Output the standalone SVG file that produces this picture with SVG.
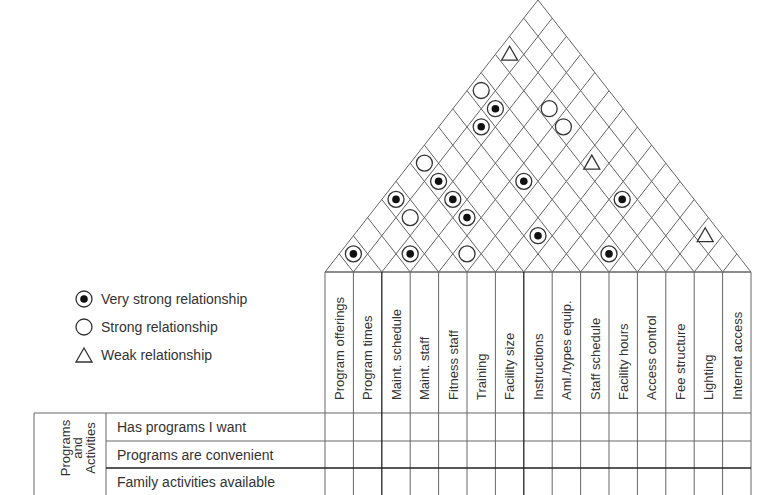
<svg xmlns="http://www.w3.org/2000/svg" width="781" height="495" viewBox="0 0 781 495">
<style>
.g{stroke:#666;stroke-width:1;fill:none}
.txt{font-family:"Liberation Sans",Arial,sans-serif;font-size:14px;fill:#333}
.col{font-family:"Liberation Sans",Arial,sans-serif;font-size:13px;fill:#333}
.s{stroke:#333;stroke-width:1.3;fill:#fff}
</style>
<defs>
<g id="vs"><circle r="8" class="s"/><circle r="3.8" fill="#111"/></g>
<g id="st"><circle r="8" class="s"/></g>
<g id="wk"><path d="M0,-8 L8,6 L-8,6 Z" class="s"/></g>
</defs>
<rect width="781" height="495" fill="#fff"/>
<g id="roof">
<path class="g" d="M325,272 L538,0 L751,272 Z"/>
</g>
<g id="connectors">
<path class="g" d="
M353.4,272L552.2,18.2 M353.4,272L339.2,253.9
M381.8,272L566.4,36.3 M381.8,272L353.4,235.7
M410.2,272L580.6,54.4 M410.2,272L367.6,217.6
M438.6,272L594.8,72.5 M438.6,272L381.8,199.5
M467,272L609,90.7 M467,272L396,181.3
M495.4,272L623.2,108.8 M495.4,272L410.2,163.2
M523.8,272L637.4,127 M523.8,272L424.4,145.1
M552.2,272L651.6,145.1 M552.2,272L438.6,127
M580.6,272L665.8,163.2 M580.6,272L452.8,108.8
M609,272L680,181.3 M609,272L467,90.7
M637.4,272L694.2,199.5 M637.4,272L481.2,72.6
M665.8,272L708.4,217.6 M665.8,272L495.4,54.4
M694.2,272L722.6,235.7 M694.2,272L509.6,36.3
M722.6,272L736.8,253.9 M722.6,272L523.8,18.2"/>
<path class="g" d="M325,272H751 M34,413H751 M106,441H751 M34,413V495 M106,413V495"/>
<path class="g" d="M325,272V495 M353.4,272V495 M410.2,272V495 M438.6,272V495 M467,272V495 M495.4,272V495 M552.2,272V495 M580.6,272V495 M609,272V495 M637.4,272V495 M665.8,272V495 M694.2,272V495 M722.6,272V495 M751,272V495"/>
<path d="M106,468H751 M381.8,272V495 M523.8,272V495" stroke="#222" stroke-width="1.3" fill="none"/>
</g>
<g id="symbols">
<use href="#wk" x="509.6" y="54.2"/>
<use href="#st" x="481.2" y="90.5"/>
<use href="#vs" x="495.4" y="108.7"/>
<use href="#vs" x="481.2" y="126.8"/>
<use href="#st" x="549.2" y="108.7"/>
<use href="#st" x="563.4" y="126.8"/>
<use href="#wk" x="591.8" y="163.1"/>
<use href="#st" x="424.4" y="163.1"/>
<use href="#vs" x="438.6" y="181.3"/>
<use href="#vs" x="523.8" y="181.3"/>
<use href="#vs" x="396" y="199.4"/>
<use href="#vs" x="452.8" y="199.4"/>
<use href="#vs" x="622.2" y="199.4"/>
<use href="#st" x="410.2" y="217.6"/>
<use href="#vs" x="467" y="217.6"/>
<use href="#vs" x="538" y="235.7"/>
<use href="#wk" x="705.2" y="235.7"/>
<use href="#vs" x="353.4" y="253.9"/>
<use href="#vs" x="410.2" y="253.9"/>
<use href="#st" x="467" y="253.9"/>
<use href="#vs" x="609" y="253.9"/>
</g>
<g id="legend">
<use href="#vs" x="84" y="299"/>
<text class="txt" x="101" y="304">Very strong relationship</text>
<use href="#st" x="84" y="327"/>
<text class="txt" x="101" y="332">Strong relationship</text>
<use href="#wk" x="84" y="356"/>
<text class="txt" x="101" y="360">Weak relationship</text>
</g>
<g id="columns" class="col">
<text transform="translate(344,400) rotate(-90)">Program offerings</text>
<text transform="translate(372.4,400) rotate(-90)">Program times</text>
<text transform="translate(400.8,400) rotate(-90)">Maint. schedule</text>
<text transform="translate(429.2,400) rotate(-90)">Maint. staff</text>
<text transform="translate(457.6,400) rotate(-90)">Fitness staff</text>
<text transform="translate(486,400) rotate(-90)">Training</text>
<text transform="translate(514.4,400) rotate(-90)">Facility size</text>
<text transform="translate(542.8,400) rotate(-90)">Instructions</text>
<text transform="translate(571.2,400) rotate(-90)">Aml./types equip.</text>
<text transform="translate(599.6,400) rotate(-90)">Staff schedule</text>
<text transform="translate(628,400) rotate(-90)">Facility hours</text>
<text transform="translate(656.4,400) rotate(-90)">Access control</text>
<text transform="translate(684.8,400) rotate(-90)">Fee structure</text>
<text transform="translate(713.2,400) rotate(-90)">Lighting</text>
<text transform="translate(741.6,400) rotate(-90)">Internet access</text>
</g>
<g id="rows" class="txt">
<text x="117" y="432">Has programs I want</text>
<text x="117" y="460">Programs are convenient</text>
<text x="117" y="487">Family activities available</text>
<g text-anchor="middle" font-size="13">
<text transform="translate(70,448) rotate(-90)">Programs</text>
<text transform="translate(82,448) rotate(-90)">and</text>
<text transform="translate(95,448) rotate(-90)">Activities</text>
</g>
</g>
</svg>
